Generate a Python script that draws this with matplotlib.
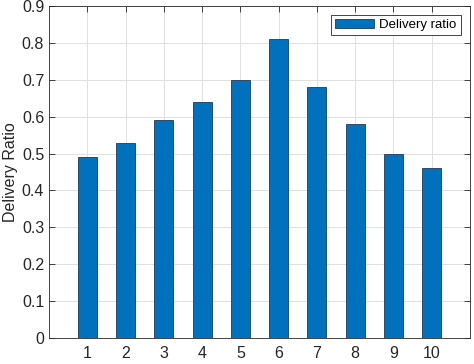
import matplotlib
matplotlib.use("Agg")
import matplotlib.pyplot as plt

categories = [1, 2, 3, 4, 5, 6, 7, 8, 9, 10]
delivery_ratio = [0.49, 0.53, 0.59, 0.64, 0.70, 0.81, 0.68, 0.58, 0.50, 0.46]
yticks = [0, 0.1, 0.2, 0.3, 0.4, 0.5, 0.6, 0.7, 0.8, 0.9]
ytick_labels = ["0", "0.1", "0.2", "0.3", "0.4", "0.5", "0.6", "0.7", "0.8", "0.9"]

plt.rcParams['font.family'] = ['Liberation Sans', 'DejaVu Sans']

fig = plt.figure(figsize=(4.74, 3.64), dpi=100)
ax = fig.add_axes([0.1034, 0.0714, 0.888, 0.912])

ax.bar(categories, delivery_ratio, width=0.5, color='#0072BD',
       edgecolor='#1f3a5a', linewidth=0.6, label='Delivery ratio', zorder=3)

ax.set_xlim(0, 11)
ax.set_ylim(0, 0.9)
ax.set_xticks(categories)
ax.set_yticks(yticks)
ax.set_yticklabels(ytick_labels)
ax.tick_params(labelsize=11.5, colors='#262626', direction='in', length=4,
               top=True, right=True, width=0.6)
ax.tick_params(axis='x', pad=6)
ax.grid(True, color='#e0e0e0', linewidth=0.7, zorder=0)
ax.set_axisbelow(True)
for s in ax.spines.values():
    s.set_color('#262626')
    s.set_linewidth(0.6)

ax.set_ylabel('Delivery Ratio', fontsize=11.5, color='#262626', labelpad=3)

leg = ax.legend(loc='upper right', fontsize=9.5, fancybox=False, framealpha=1,
                edgecolor='#262626', handlelength=3.0, handleheight=0.6,
                handletextpad=0.38, borderpad=0.3, borderaxespad=0.7)
leg.get_frame().set_linewidth(0.6)

fig.savefig('out.png', dpi=100)
